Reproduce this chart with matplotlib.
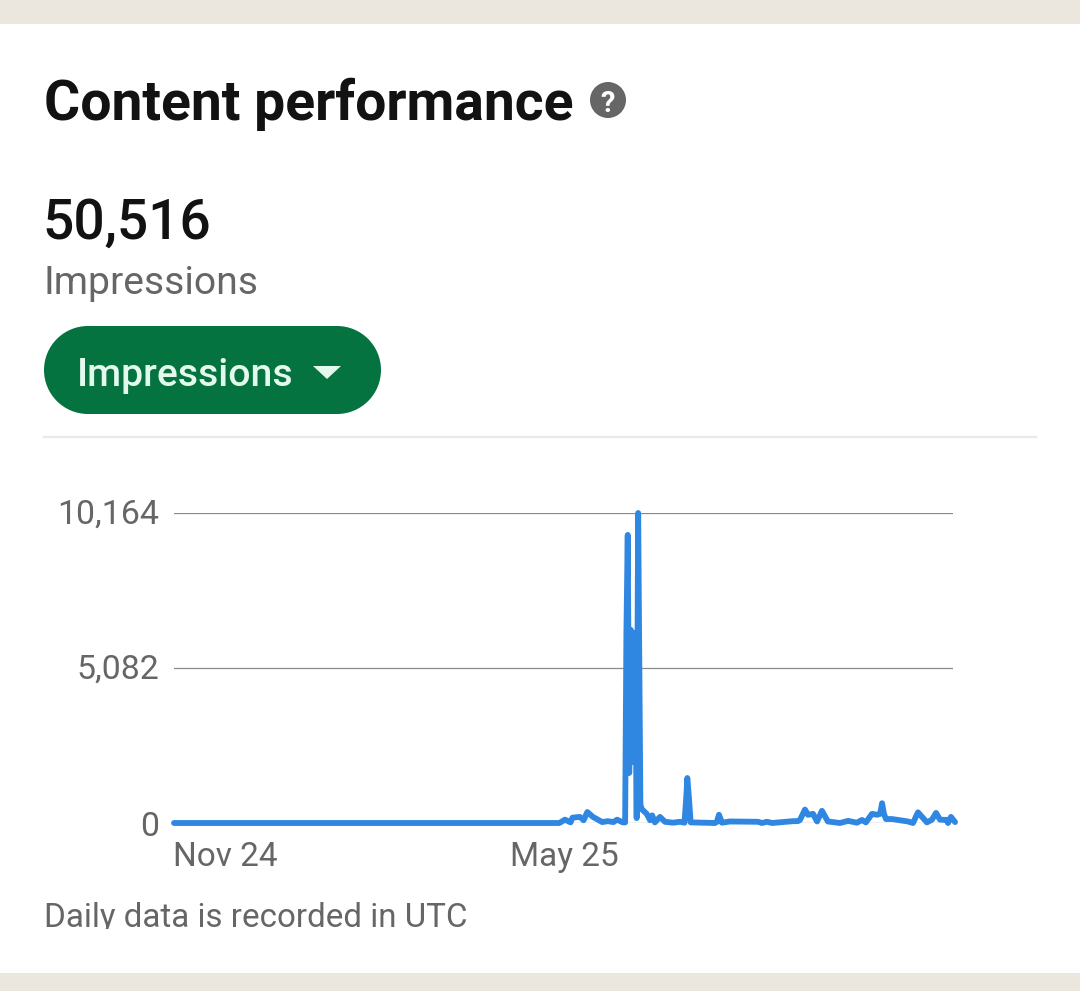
import matplotlib
matplotlib.use("Agg")
import matplotlib.pyplot as plt
from matplotlib.patches import Rectangle, Circle, Polygon
from matplotlib.transforms import ScaledTranslation

plt.rcParams['font.family'] = ['Roboto', 'DejaVu Sans']

days = [0, 205, 207, 210, 213, 214, 218, 220, 222, 225, 230, 233, 236, 238, 241, 242.3,
        243, 243.7, 244.5, 245.4, 246.5, 247.6, 248.5, 249.3, 250.5, 251.3,
        253.9, 255.7, 256.8, 258.3, 261, 263.7, 268, 271.8, 274.2, 275.3, 275.7, 276.6, 277.5,
        290.6, 291.6, 292.7, 294.3, 298.6, 313.7, 315.8, 318.5, 321.2, 332.4, 335.1, 336.2,
        338.9, 340.5, 343.2, 345.4, 348, 351.2, 357.7, 362, 366.8, 369.5, 371.6, 374.9, 377.6,
        379.3, 380.3, 381.3, 382.4, 385.6, 389.9, 394.2, 396.9, 399.6, 404.4, 407.1, 409.3,
        411.4, 415.2, 415.7, 417.3, 419.5]
impressions = [0, 0, 0, 110, 20, 175, 200, 90, 360, 200, 30, 60, 30, 110, 20, 20,
               6300, 9446, 1640, 6330, 2000, 6230, 160, 10164, 600, 450,
               300, 90, 250, 20, 200, 40, 10, 40, 10, 1000, 1475, 800, 20,
               0, 40, 270, 10, 50, 40, 0, 40, 0, 60, 60, 100,
               440, 270, 300, 50, 400, 50, 0, 70, 10, 100, 20, 300, 270,
               300, 650, 300, 130, 130, 90, 50, 0, 350, 20, 110, 330,
               110, 100, 0, 200, 30]
y_ticks = [0, 5082, 10164]
y_tick_labels = ['0', '5,082', '10,164']
x_ticks = [0, 181]
x_tick_labels = ['Nov 24', 'May 25']

W, H = 1080, 991
fig = plt.figure(figsize=(W / 100, H / 100), dpi=100, facecolor='white')

ui = fig.add_axes([0, 0, 1, 1], zorder=0)
ui.set_xlim(0, W)
ui.set_ylim(H, 0)
ui.axis('off')

band = '#ebe7de'
ui.add_patch(Rectangle((0, 0), W, 24, fc=band, ec='none'))
ui.add_patch(Rectangle((0, 973), W, 18, fc=band, ec='none'))
ui.plot([44, 1036], [437, 437], color='#e9e9e7', lw=1.6)

dark = '#111211'
grey = '#666666'
ui.text(44, 98.5, 'Content performance', fontsize=39.8, fontweight='bold', color=dark,
        ha='left', va='center_baseline')
ui.add_patch(Circle((608, 100), 18, fc=grey, ec='none'))
ui.text(608, 100.5, '?', fontsize=21, fontweight='bold', color='white', ha='center',
        va='center_baseline')
ui.text(42.5, 218, '50,516', fontsize=39.7, color=dark, fontweight='medium', ha='left',
        va='center_baseline')
ui.text(43.5, 279, 'Impressions', fontsize=28.2, color=grey, ha='left', va='center_baseline')

green = '#05733f'
ui.add_patch(Circle((88, 370), 44, fc=green, ec='none'))
ui.add_patch(Circle((337, 370), 44, fc=green, ec='none'))
ui.add_patch(Rectangle((88, 326), 249, 88, fc=green, ec='none'))
ui.text(77, 371.5, 'Impressions', fontsize=28.2, color='#e3f9ee', fontweight='medium', ha='left',
        va='center_baseline')
ui.add_patch(Polygon([(313, 366), (341, 366), (327, 379)], closed=True, fc='#e3f9ee', ec='none'))

ui.text(44, 914, 'Daily data is recorded in UTC', fontsize=23.9, color=grey, ha='left',
        va='center_baseline')
ui.add_patch(Rectangle((0, 929), W, 44, fc='white', ec='none', zorder=5))

# chart axes: x 174..953 px, y 513..823 px
ax = fig.add_axes([174 / W, 1 - 823 / H, (953 - 174) / W, (823 - 513) / H], zorder=1)
ax.patch.set_alpha(0)
ax.set_xlim(0, 418.4)
ax.set_ylim(0, 10164)
for s in ax.spines.values():
    s.set_visible(False)
ax.set_yticks(y_ticks, y_tick_labels)
ax.set_xticks(x_ticks, x_tick_labels)
ax.tick_params(axis='y', length=0, pad=10.5, labelsize=24.4, labelcolor=grey)
ax.tick_params(axis='x', length=0, pad=13.3, labelsize=24, labelcolor=grey)
shift_up = ScaledTranslation(0, 1.5 / 72, fig.dpi_scale_trans)
for lab in ax.get_yticklabels()[1:]:
    lab.set_transform(lab.get_transform() + shift_up)
shift_left = ScaledTranslation(-1.0 / 72, 0, fig.dpi_scale_trans)
for lab in ax.get_xticklabels():
    lab.set_ha('left')
    lab.set_transform(lab.get_transform() + shift_left)
ax.grid(axis='y', color='#8a8a8a', lw=0.9)
ax.set_axisbelow(True)
ax.plot(days, impressions, color='#2f87e2', lw=4.2, solid_joinstyle='round',
        solid_capstyle='round', clip_on=False, zorder=3)

fig.savefig('out.png', dpi=100)
